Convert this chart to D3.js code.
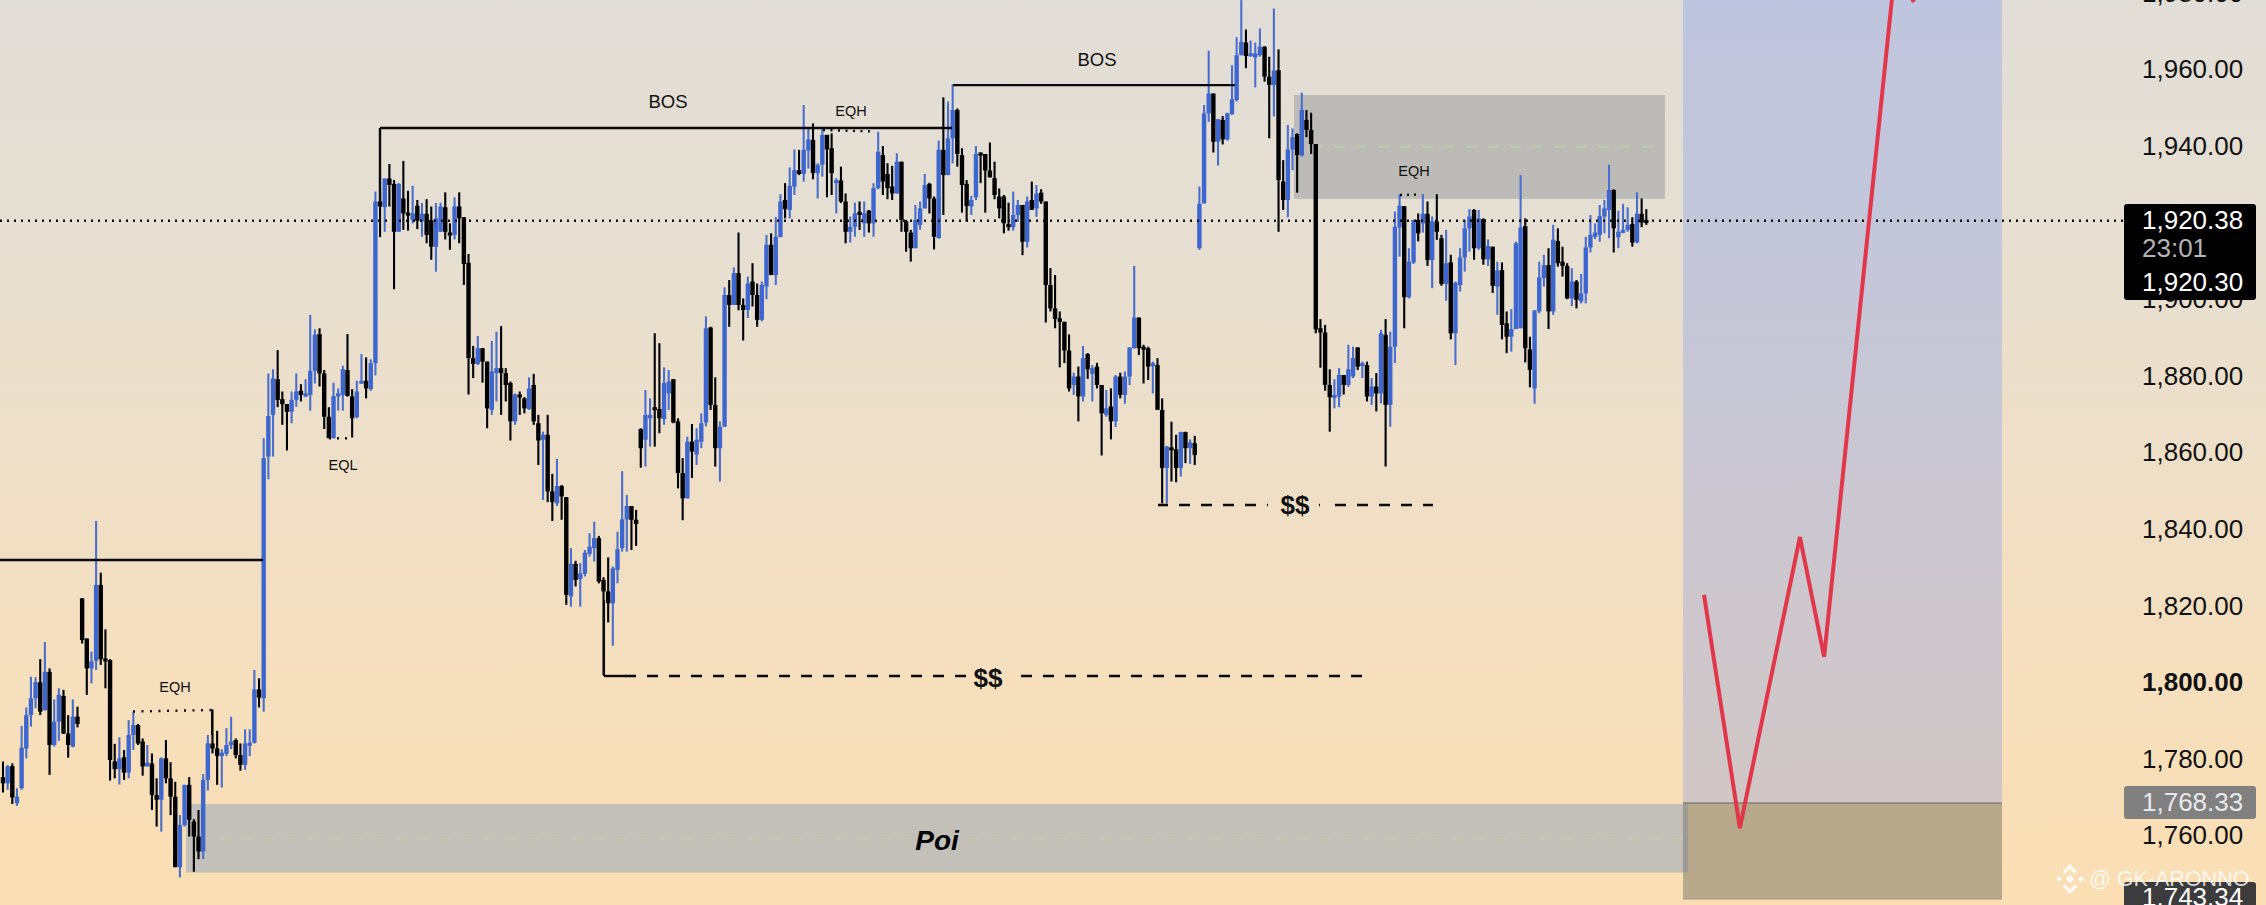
<!DOCTYPE html>
<html><head><meta charset="utf-8">
<script src="https://cdn.jsdelivr.net/npm/d3@7"></script>
<style>html,body{margin:0;padding:0;background:#f5dfc0}svg{display:block}text{font-family:"Liberation Sans",Arial,sans-serif}</style>
</head><body><div id="chart"></div>
<script>
const opens=[
1775.1,1773.5,1778.0,1768.3,1772.2,1782.6,1791.3,1795.7,1799.9,1792.6,
1802.6,1783.5,1789.6,1796.3,1786.5,1783.1,1790.9,1821.8,1811.3,1803.5,
1805.5,1825.3,1806.1,1805.7,1779.2,1777.2,1780.3,1776.3,1786.1,1788.7,
1784.4,1777.9,1778.7,1770.4,1769.2,1780.0,1774.8,1770.0,1751.6,1762.6,
1773.1,1763.5,1759.6,1755.7,1774.4,1783.9,1782.6,1780.6,1781.2,1783.5,
1784.8,1780.9,1778.3,1783.9,1784.1,1798.0,1795.7,1858.8,1869.7,1879.0,
1873.8,1872.5,1870.5,1873.6,1876.0,1874.5,1874.9,1881.2,1890.8,1880.5,
1869.2,1863.6,1874.6,1874.9,1881.4,1874.5,1869.1,1877.9,1878.6,1876.4,
1883.2,1925.4,1923.9,1931.4,1930.0,1917.5,1926.2,1922.5,1920.6,1924.3,
1920.2,1922.2,1920.6,1913.6,1917.5,1923.9,1917.3,1916.7,1924.1,1921.3,
1909.4,1884.5,1883.0,1887.1,1883.6,1871.0,1880.6,1881.9,1880.6,1878.0,
1868.0,1875.0,1874.0,1871.2,1877.5,1867.5,1863.2,1864.5,1849.7,1846.6,
1851.1,1848.2,1822.3,1830.8,1826.8,1828.2,1833.4,1834.9,1837.5,1826.6,
1823.6,1820.5,1829.2,1834.9,1842.4,1845.9,1842.3,1866.0,1863.2,1868.8,
1871.7,1871.2,1868.6,1875.3,1879.0,1868.0,1854.5,1847.9,1862.7,1859.3,
1862.7,1867.7,1892.5,1872.3,1861.0,1866.6,1901.0,1898.4,1906.7,1898.4,
1897.1,1904.5,1901.0,1894.5,1903.2,1914.1,1906.2,1916.1,1925.8,1923.2,
1929.3,1933.6,1932.6,1938.7,1941.5,1932.8,1935.0,1942.8,1939.3,1930.3,
1930.9,1925.4,1917.5,1918.8,1922.7,1919.7,1923.0,1919.7,1928.9,1937.5,
1932.6,1929.3,1927.5,1935.8,1920.2,1917.3,1913.2,1919.3,1923.6,1930.0,
1926.2,1915.8,1938.9,1932.3,1941.9,1949.3,1937.5,1930.0,1924.1,1926.5,
1938.2,1937.8,1933.5,1931.5,1926.7,1926.7,1919.5,1918.7,1921.9,1924.5,
1914.9,1925.8,1923.6,1927.7,1925.4,1903.6,1897.5,1894.9,1894.0,1886.5,
1877.5,1879.7,1874.5,1885.6,1880.4,1882.3,1877.5,1869.7,1871.9,1868.0,
1879.7,1874.9,1879.7,1887.1,1895.1,1887.5,1887.1,1882.7,1882.7,1871.0,
1855.8,1861.2,1860.7,1855.8,1865.2,1861.0,1862.3,1913.2,1924.9,1948.4,
1953.6,1941.0,1946.7,1941.6,1948.2,1951.9,1963.6,1966.9,1963.4,1963.0,
1963.6,1965.8,1958.0,1955.8,1959.7,1930.6,1925.8,1939.0,1943.0,1937.5,
1946.7,1944.1,1940.4,1892.3,1891.2,1877.5,1874.3,1874.5,1880.1,1877.5,
1879.7,1887.3,1882.5,1882.7,1874.5,1877.1,1875.3,1890.6,1872.3,1887.5,
1918.6,1924.2,1900.4,1909.5,1920.6,1919.7,1922.2,1910.1,1920.2,1915.8,
1903.9,1909.5,1891.0,1903.6,1910.8,1918.4,1923.2,1913.2,1920.8,1910.3,
1913.6,1903.2,1907.5,1893.6,1890.1,1892.1,1892.3,1919.0,1886.8,1876.6,
1896.7,1905.4,1908.8,1896.7,1915.1,1909.7,1908.6,1900.1,1904.5,1899.3,
1901.4,1913.4,1916.2,1916.7,1921.5,1923.2,1928.4,1916.1,1917.3,1918.0,
1919.5,1914.7,1922.2,1920.6];
const closes=[
1773.5,1777.9,1769.8,1770.0,1782.8,1791.3,1795.7,1799.9,1792.2,1802.6,
1783.5,1789.6,1796.6,1786.5,1783.5,1790.9,1789.0,1810.9,1803.5,1805.3,
1825.3,1805.9,1805.9,1779.6,1777.2,1780.0,1776.3,1786.1,1788.7,1783.9,
1777.9,1778.9,1770.4,1769.2,1780.0,1774.8,1770.0,1751.6,1762.6,1773.1,
1764.0,1759.6,1755.7,1774.4,1783.9,1782.6,1780.6,1781.5,1783.5,1784.4,
1780.9,1778.3,1783.9,1784.1,1798.0,1795.9,1858.4,1869.4,1879.2,1873.6,
1872.5,1870.5,1873.6,1875.8,1874.9,1875.3,1881.2,1890.6,1880.5,1869.2,
1863.6,1874.6,1875.3,1881.6,1874.6,1868.8,1875.8,1878.6,1876.6,1883.2,
1925.4,1924.1,1931.4,1929.7,1917.5,1930.0,1922.3,1922.2,1922.3,1920.4,
1922.2,1916.7,1913.6,1921.0,1924.1,1917.5,1916.8,1924.1,1921.0,1909.1,
1884.5,1883.0,1887.1,1883.6,1871.4,1881.0,1881.9,1880.6,1877.5,1868.0,
1875.0,1874.5,1871.4,1876.6,1868.0,1863.0,1864.5,1849.7,1846.9,1851.1,
1848.4,1822.7,1830.8,1826.6,1828.3,1833.7,1835.3,1837.5,1826.2,1823.6,
1820.5,1829.6,1834.6,1842.4,1845.9,1842.3,1841.2,1861.0,1869.7,1869.7,
1871.2,1868.8,1878.0,1878.4,1867.7,1854.5,1847.9,1862.7,1860.1,1863.2,
1867.5,1892.3,1872.3,1861.0,1866.6,1901.0,1898.4,1906.7,1898.4,1897.1,
1904.0,1901.0,1894.5,1903.6,1914.1,1906.2,1916.2,1925.4,1923.4,1929.5,
1933.6,1932.6,1938.9,1941.6,1932.8,1935.0,1942.8,1939.0,1932.8,1931.0,
1925.4,1917.5,1918.8,1922.3,1922.2,1922.3,1919.7,1928.9,1938.4,1930.6,
1928.9,1927.5,1935.8,1920.6,1917.5,1913.2,1920.6,1923.6,1929.7,1926.2,
1916.2,1938.9,1932.3,1941.9,1949.3,1937.8,1929.7,1924.2,1925.8,1937.8,
1937.8,1933.5,1931.7,1927.1,1923.6,1919.7,1918.7,1921.9,1924.5,1914.9,
1925.4,1923.2,1927.5,1925.4,1903.6,1897.5,1894.7,1894.0,1886.5,1876.6,
1879.7,1874.5,1884.5,1881.6,1881.9,1877.5,1870.1,1871.4,1868.0,1879.7,
1874.9,1879.7,1887.3,1895.1,1887.1,1887.1,1882.3,1883.2,1871.0,1855.8,
1861.4,1860.7,1855.8,1865.2,1861.0,1862.5,1859.2,1924.8,1948.4,1953.6,
1941.0,1946.9,1941.6,1948.4,1952.1,1963.6,1967.1,1963.4,1964.1,1964.1,
1965.8,1958.0,1955.8,1959.6,1931.0,1925.8,1939.0,1942.2,1937.5,1949.3,
1944.1,1940.4,1892.0,1891.2,1877.5,1874.3,1874.9,1880.1,1877.5,1881.6,
1884.5,1882.3,1883.2,1874.5,1877.1,1875.3,1891.0,1872.3,1887.5,1918.8,
1924.3,1900.4,1909.7,1920.6,1917.1,1922.2,1910.1,1920.2,1917.5,1903.9,
1909.3,1891.0,1904.2,1910.8,1918.4,1921.5,1913.2,1921.0,1910.3,1913.8,
1903.4,1907.4,1893.2,1890.1,1892.1,1914.5,1918.6,1887.1,1881.4,1896.9,
1905.6,1908.8,1896.7,1915.4,1909.3,1908.6,1900.1,1904.5,1899.7,1901.4,
1913.4,1916.7,1917.3,1921.6,1923.6,1928.4,1918.4,1917.5,1918.0,1919.3,
1914.7,1922.2,1919.9,1920.3];
const highs=[
1779.2,1778.3,1778.7,1772.2,1788.5,1793.3,1801.3,1801.2,1805.9,1810.4,
1803.5,1795.4,1798.3,1797.9,1791.3,1795.4,1793.5,1821.8,1811.3,1807.9,
1842.0,1828.5,1813.7,1805.9,1783.8,1785.5,1782.2,1790.0,1792.2,1789.0,
1785.2,1783.5,1781.3,1774.8,1780.3,1784.8,1779.0,1773.9,1765.2,1773.1,
1775.1,1764.1,1766.5,1775.9,1786.1,1792.8,1787.2,1782.4,1787.9,1790.9,
1785.2,1783.9,1787.6,1787.6,1803.1,1800.9,1863.6,1880.5,1881.6,1886.6,
1875.8,1872.5,1875.8,1880.5,1877.7,1879.0,1895.8,1892.0,1892.3,1881.4,
1871.7,1878.1,1876.6,1882.5,1890.8,1876.4,1878.6,1885.6,1884.7,1884.2,
1928.0,1928.0,1931.4,1935.2,1931.0,1930.2,1936.0,1928.2,1929.5,1925.8,
1925.0,1926.0,1924.1,1925.0,1925.1,1927.8,1919.7,1926.5,1927.8,1921.3,
1911.7,1887.7,1890.3,1887.1,1883.6,1889.0,1891.4,1892.9,1881.9,1878.4,
1875.3,1875.8,1874.3,1879.5,1880.4,1869.7,1865.3,1869.7,1854.3,1858.2,
1851.4,1848.2,1834.9,1831.6,1831.0,1834.4,1838.8,1841.8,1838.1,1827.3,
1832.5,1830.1,1839.2,1855.0,1848.8,1845.9,1844.9,1866.2,1876.2,1874.0,
1891.0,1888.4,1882.1,1881.4,1879.0,1868.8,1858.4,1864.0,1867.3,1866.2,
1870.1,1895.4,1892.7,1879.5,1868.0,1903.0,1904.9,1908.2,1917.3,1900.1,
1905.8,1909.3,1904.0,1904.5,1916.7,1917.1,1921.4,1927.3,1930.2,1934.3,
1939.0,1938.9,1950.6,1944.5,1945.8,1935.4,1944.5,1942.8,1943.2,1931.5,
1934.5,1927.5,1921.5,1925.1,1925.4,1925.4,1923.2,1930.2,1943.6,1939.9,
1935.4,1934.7,1938.0,1935.8,1920.6,1918.0,1924.5,1925.4,1932.6,1930.3,
1926.7,1941.3,1952.6,1951.5,1956.0,1949.7,1939.3,1931.0,1926.9,1939.9,
1938.2,1937.8,1940.8,1935.8,1928.8,1927.1,1925.1,1928.0,1925.8,1924.5,
1926.7,1930.6,1929.7,1928.6,1925.4,1908.0,1906.2,1896.7,1894.0,1890.7,
1880.7,1882.3,1887.7,1885.8,1882.7,1883.3,1877.5,1876.2,1876.6,1880.1,
1880.7,1881.0,1887.3,1908.6,1895.1,1888.0,1887.5,1883.6,1884.5,1874.0,
1861.6,1867.9,1864.5,1865.3,1865.3,1863.3,1864.2,1929.3,1950.6,1964.8,
1953.6,1946.9,1947.7,1948.6,1961.0,1968.3,1978.0,1970.3,1967.4,1966.9,
1970.6,1966.0,1963.2,1975.8,1965.1,1936.2,1945.4,1944.5,1943.2,1953.8,
1949.3,1948.6,1940.4,1894.7,1893.2,1881.6,1879.0,1881.9,1880.1,1888.0,
1887.5,1887.3,1883.6,1883.6,1879.3,1880.6,1891.9,1894.7,1891.4,1922.8,
1927.3,1924.2,1913.2,1920.6,1922.3,1927.4,1925.4,1921.5,1927.3,1916.7,
1918.0,1911.5,1904.5,1913.2,1920.6,1923.4,1923.4,1923.2,1921.0,1915.5,
1913.6,1909.7,1909.5,1896.7,1897.3,1914.9,1932.3,1921.0,1890.1,1897.1,
1909.7,1911.5,1913.2,1919.3,1918.4,1913.6,1909.3,1908.0,1904.9,1906.5,
1916.2,1921.9,1919.7,1924.5,1925.8,1935.0,1928.6,1923.0,1924.8,1923.9,
1921.3,1927.8,1926.2,1923.4];
const lows=[
1771.1,1771.8,1768.1,1767.6,1771.8,1780.0,1788.3,1793.1,1791.3,1792.5,
1775.7,1783.1,1784.6,1786.4,1780.2,1782.9,1788.1,1810.0,1796.6,1799.6,
1803.1,1804.4,1798.3,1774.2,1774.8,1773.2,1774.4,1774.8,1782.2,1783.5,
1775.5,1777.9,1766.5,1762.2,1760.9,1773.5,1765.2,1751.6,1748.9,1762.2,
1759.6,1750.4,1753.7,1753.7,1771.6,1781.3,1773.1,1772.4,1780.6,1782.4,
1780.0,1776.8,1777.0,1780.6,1783.9,1793.3,1792.2,1852.9,1858.8,1871.7,
1867.1,1860.4,1867.5,1871.8,1873.2,1874.3,1870.8,1877.9,1877.1,1866.0,
1863.6,1863.6,1870.8,1870.8,1874.5,1863.8,1868.8,1877.9,1874.0,1876.0,
1880.0,1916.1,1917.5,1924.1,1902.5,1917.5,1918.0,1917.8,1919.7,1918.2,
1916.2,1914.5,1910.2,1907.1,1917.5,1915.5,1912.8,1915.5,1914.5,1903.6,
1875.0,1879.3,1882.7,1878.1,1866.2,1869.7,1873.2,1869.7,1873.2,1863.0,
1867.1,1869.7,1870.1,1871.0,1867.1,1856.6,1847.5,1846.9,1842.0,1845.9,
1842.3,1820.1,1819.6,1824.9,1819.6,1827.5,1832.7,1831.4,1825.7,1801.8,
1815.5,1809.4,1825.7,1834.0,1834.0,1834.4,1835.5,1855.9,1856.2,1861.4,
1861.4,1864.9,1867.1,1871.0,1867.5,1850.5,1842.2,1847.9,1853.2,1856.6,
1861.0,1866.7,1871.0,1856.2,1852.3,1866.6,1892.7,1898.4,1897.0,1889.1,
1895.0,1898.0,1892.7,1894.1,1899.9,1906.2,1903.6,1916.1,1921.0,1921.0,
1927.1,1932.3,1930.6,1934.0,1931.2,1926.2,1931.9,1926.5,1927.1,1922.3,
1925.0,1914.5,1914.7,1916.2,1918.0,1916.2,1917.3,1916.2,1928.6,1927.1,
1926.0,1925.8,1927.5,1917.5,1912.3,1909.7,1913.2,1918.0,1923.6,1922.3,
1912.9,1915.8,1921.9,1932.3,1935.4,1934.5,1922.5,1920.1,1921.9,1925.8,
1930.2,1922.5,1931.7,1926.0,1921.0,1917.1,1917.8,1917.8,1920.1,1911.4,
1913.4,1923.2,1921.4,1924.8,1893.8,1896.7,1892.3,1882.1,1883.2,1875.8,
1874.9,1868.0,1873.2,1879.1,1873.2,1876.6,1859.1,1869.2,1863.3,1866.5,
1874.0,1872.6,1877.5,1887.0,1885.3,1877.9,1878.8,1875.3,1871.0,1846.6,
1846.6,1852.3,1852.1,1853.6,1857.1,1856.9,1856.6,1912.8,1924.9,1946.2,
1938.2,1934.8,1940.3,1941.3,1948.0,1951.5,1963.6,1960.2,1963.2,1955.2,
1963.2,1956.7,1941.9,1947.6,1917.5,1923.2,1921.3,1933.6,1927.7,1937.1,
1942.2,1937.8,1891.0,1882.0,1876.0,1865.3,1871.4,1871.7,1875.0,1877.0,
1879.3,1881.4,1879.3,1873.2,1872.3,1870.6,1872.7,1856.2,1866.6,1883.2,
1911.0,1892.3,1900.1,1909.1,1915.0,1917.3,1908.6,1902.8,1915.4,1903.4,
1899.5,1889.4,1882.7,1901.9,1907.1,1912.3,1910.2,1912.8,1908.9,1908.6,
1901.5,1895.8,1889.4,1885.8,1886.2,1892.1,1892.3,1883.4,1876.9,1872.6,
1896.2,1903.2,1892.1,1895.8,1908.4,1905.8,1899.9,1898.1,1897.5,1898.8,
1898.8,1912.1,1915.6,1914.9,1917.1,1915.8,1912.1,1913.2,1917.1,1917.5,
1913.6,1914.5,1918.7,1919.3];

const axisTicks=[1980,1960,1940,1900,1880,1860,1840,1820,1800,1780,1760];
const boldTick=1800;
const lastPrice=1920.38, lastBid=1920.30, countdown="23:01";
const targetPrice=1768.33, stopPrice=1743.34;
const poiTop=1768.1, poiBottom=1750.2, poiMid=1759.2;
const zoneTop=1953.2, zoneBottom=1926.1, zoneMid=1939.7;
const projBars=[365.4,373.1,386.0,391.2,406.4,410.5];
const projPrices=[1822.7,1761.8,1837.8,1806.5,1985.8,1977.5];

const W=2266,H=905;
const x=d3.scaleLinear().domain([0,353]).range([3,1646.3]);
const y=d3.scaleLinear().domain([1960,1760]).range([69,835]);
const svg=d3.select("#chart").append("svg").attr("width",W).attr("height",H).attr("viewBox",`0 0 ${W} ${H}`);

const defs=svg.append("defs");
const g=defs.append("linearGradient").attr("id","bg").attr("x1",0).attr("y1",0).attr("x2",0).attr("y2",1);
[[0,"#e1ddd7"],[.25,"#e6dfd2"],[.5,"#eedfc8"],[.75,"#f5dfbd"],[1,"#fbdeb3"]].forEach(s=>g.append("stop").attr("offset",s[0]).attr("stop-color",s[1]));
svg.append("rect").attr("width",W).attr("height",H).attr("fill","url(#bg)");

const tradeX0=1683,tradeX1=2002;
// position tool
svg.append("rect").attr("x",tradeX0).attr("y",0).attr("width",tradeX1-tradeX0).attr("height",y(targetPrice))
 .attr("fill","rgb(93,126,245)").attr("fill-opacity",.25);
svg.append("rect").attr("x",tradeX0).attr("y",y(targetPrice)).attr("width",tradeX1-tradeX0).attr("height",y(stopPrice)-y(targetPrice))
 .attr("fill","#b8a88c");
svg.append("line").attr("x1",tradeX0).attr("x2",tradeX1).attr("y1",y(targetPrice)).attr("y2",y(targetPrice)).attr("stroke","#8b867d").attr("stroke-width",1.6);
svg.append("line").attr("x1",tradeX0).attr("x2",tradeX1).attr("y1",y(stopPrice)).attr("y2",y(stopPrice)).attr("stroke","#9f9484").attr("stroke-width",1.2);

// zones
const zones=[{x0:186,x1:1683,t:poiTop,b:poiBottom,m:poiMid,f:"#c3bfb9",dx:198,ex:1683},{x0:1294,x1:1665,t:zoneTop,b:zoneBottom,m:zoneMid,f:"#bdbbb8",dx:1312,ex:1660}];
zones.forEach(z=>{
 svg.append("rect").attr("x",z.x0).attr("y",y(z.t)).attr("width",z.x1-z.x0).attr("height",y(z.b)-y(z.t)).attr("fill",z.f);
 svg.append("line").attr("x1",z.dx).attr("x2",z.ex).attr("y1",y(z.m)).attr("y2",y(z.m)).attr("stroke","#bccba8").attr("stroke-width",1.8).attr("stroke-dasharray","11 11");
});
// overlap of the Poi zone with the position tool
svg.append("rect").attr("x",1683).attr("y",y(poiTop)).attr("width",5).attr("height",y(poiBottom)-y(poiTop)).attr("fill","#9e9b94");

// helper lines
function seg(xa,ya,xb,yb,w,dash){
 const l=svg.append("line").attr("x1",xa).attr("y1",ya).attr("x2",xb).attr("y2",yb).attr("stroke","#0a0a0a").attr("stroke-width",w);
 if(dash)l.attr("stroke-dasharray",dash);return l;
}
// candles
const idx=d3.range(opens.length);
const cBlue="#3e66cf",cBlack="#000";
const col=i=>closes[i]>=opens[i]?cBlue:cBlack;
svg.append("g").selectAll("line").data(idx).join("line")
 .attr("x1",i=>x(i)).attr("x2",i=>x(i)).attr("y1",i=>y(highs[i])).attr("y2",i=>y(lows[i]))
 .attr("stroke",i=>closes[i]>=opens[i]?"#4a6fcc":"#000").attr("stroke-width",2.1);
svg.append("g").selectAll("rect").data(idx).join("rect")
 .attr("x",i=>x(i)-2.2).attr("width",4.4)
 .attr("y",i=>y(Math.max(opens[i],closes[i])))
 .attr("height",i=>Math.max(3,Math.abs(y(opens[i])-y(closes[i]))))
 .attr("fill",col);

// BOS / structure lines
const l1=1831.8,b1=1944.6,b2=1955.8;
seg(0,y(l1),263,y(l1),2.4);
seg(380,y(b1),952,y(b1),2.4);
seg(380,y(b1),380,205,2.4);
seg(953,y(b2),1235,y(b2),2.4);
// EQ dotted
seg(133,711.5,212,710,2.4,"2 6.5");
seg(823,130,874,131.5,2.4,"2 5.5");
seg(1400,195,1421,194.5,2.4,"2 5");
seg(329,y(1863.6),352,y(1863.6),2.4,"2 6");
seg(212,710,212,735,2);
// $$ lines
const p1=1960-(676-69)/3.83, p2=1960-(505-69)/3.83;
seg(604,y(p1),626,y(p1),2.4);
seg(604,600,604,y(p1),2.1);
seg(625,y(p1),966,y(p1),2.6,"11 11");
seg(1021,y(p1),1363,y(p1),2.6,"11 11");
seg(1158,y(p2),1168,y(p2),2.6);
seg(1179,y(p2),1268,y(p2),2.6,"11 11");
seg(1319,y(p2),1320,y(p2),2.4);
seg(1335,y(p2),1433,y(p2),2.6,"11 11");

// dotted last price
seg(0,y(lastPrice),2124,y(lastPrice),2.5,"2 5");

// projection
const line=d3.line().x((d,i)=>x(projBars[i])).y(d=>y(d));
svg.append("path").attr("d",line(projPrices)).attr("fill","none").attr("stroke","#e2374b").attr("stroke-width",4).attr("stroke-linejoin","miter");

// labels
function lab(t,cx,cy,fs,o={}){
 return svg.append("text").attr("x",cx).attr("y",cy).attr("text-anchor","middle").attr("dominant-baseline","central")
  .attr("font-size",fs).attr("fill",o.fill||"#111").attr("font-weight",o.w||400).attr("font-style",o.s||"normal").text(t);
}
lab("BOS",668,101,18.5);
lab("BOS",1097,59,18.5);
lab("EQH",175,687,14.5);
lab("EQH",851,111,14.5);
lab("EQH",1414,171,14.5);
lab("EQL",343,465,14.5);
lab("$$",988,678,26,{w:700});
lab("$$",1295,505,26,{w:700});
lab("Poi",937,840,28,{w:700,s:"italic",fill:"#000"});

// axis
const axis=d3.axisRight(y).tickValues(axisTicks).tickSize(0).tickPadding(0).tickFormat(d3.format(",.2f"));
const ag=svg.append("g").attr("transform","translate(2142,0)").call(axis);
ag.select(".domain").remove();
ag.selectAll("text").attr("font-size",26).attr("font-family",'"Liberation Sans",Arial,sans-serif').attr("fill","#111").attr("dy","0.34em")
  .attr("font-weight",d=>d===boldTick?700:400);

// price tags
const tagX=2124,tagW=132,txtX=2142;
svg.append("rect").attr("x",tagX).attr("y",204).attr("width",tagW).attr("height",96).attr("rx",3).attr("fill","#000");
const fmt=d3.format(",.2f");
function tag(t,cy,fill,fs){return svg.append("text").attr("x",txtX).attr("y",cy).attr("dominant-baseline","central").attr("font-size",fs||26).attr("fill",fill).text(t);}
tag(fmt(lastPrice),220,"#fff");
tag(countdown,248,"#b4b4b4");
tag(fmt(lastBid),282,"#fff");
svg.append("rect").attr("x",tagX).attr("y",786).attr("width",tagW).attr("height",33).attr("rx",3).attr("fill","#808080");
tag(fmt(targetPrice),802,"#e9e9e9");
svg.append("rect").attr("x",tagX).attr("y",882).attr("width",tagW).attr("height",30).attr("rx",3).attr("fill","#3c3c3c");
tag(fmt(stopPrice),897,"#fff");

// watermark
const wm=svg.append("g").attr("fill","#fff").attr("fill-opacity",.82);
const icon=wm.append("g").attr("transform","translate(2070,879)");
icon.append("path").attr("d","M0,-4.5L4.5,0L0,4.5L-4.5,0Z");
icon.append("path").attr("d","M0,-15L7.5,-7.5L5,-5L0,-10L-5,-5L-7.5,-7.5Z");
icon.append("path").attr("d","M0,15L7.5,7.5L5,5L0,10L-5,5L-7.5,7.5Z");
icon.append("path").attr("d","M-11,-3L-8,0L-11,3L-14,0Z");
icon.append("path").attr("d","M11,-3L14,0L11,3L8,0Z");
wm.append("text").attr("x",2089).attr("y",879).attr("dominant-baseline","central").attr("font-size",21.5).text("@ GK-ARONNO");
</script></body></html>
